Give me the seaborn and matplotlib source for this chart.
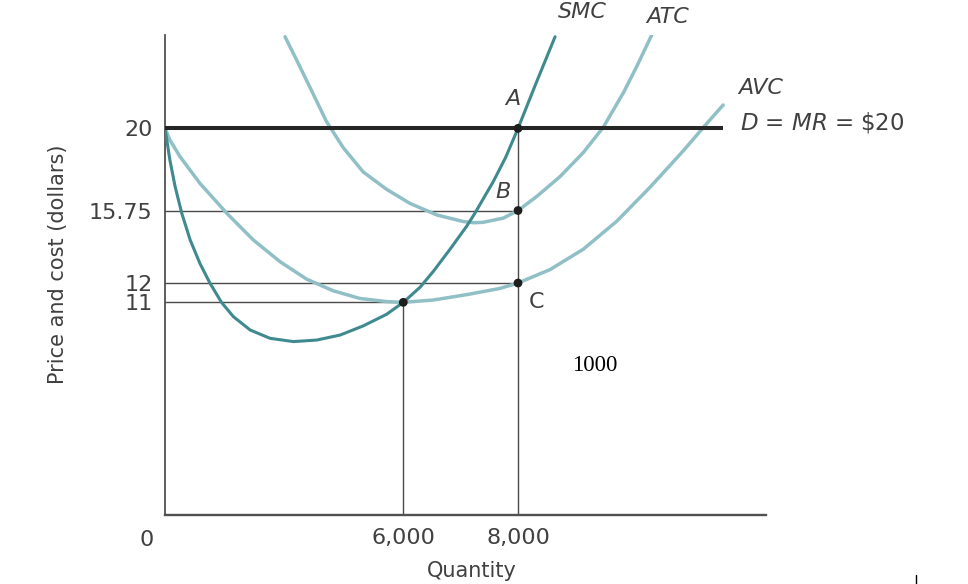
import matplotlib
matplotlib.use("Agg")
import matplotlib.pyplot as plt
import numpy as np
import pandas as pd
import seaborn as sns
from matplotlib.lines import Line2D

# DATA (diagram units on x: the textbook axis is not drawn to scale)
smc_x = [0, 0.11, 0.23, 0.38, 0.57, 0.79, 1.02, 1.28, 1.55, 1.93, 2.38, 2.91, 3.44,
         3.97, 4.49, 5.02, 5.40, 5.78, 6.08, 6.46, 6.84, 7.02, 7.44, 7.72, 8.0, 8.42, 8.84]
smc_y = [20, 18.37, 16.98, 15.61, 14.23, 13.02, 11.99, 11.0, 10.26, 9.57, 9.14, 8.97, 9.05,
         9.31, 9.78, 10.38, 11.0, 11.78, 12.6, 13.75, 14.95, 15.6, 17.25, 18.5, 20.0, 22.4, 24.74]
atc_x = [2.72, 2.98, 3.29, 3.66, 4.04, 4.49, 5.02, 5.55, 6.16, 6.76, 7.0, 7.21, 7.67, 8.0,
         8.42, 8.95, 9.48, 9.93, 10.39, 10.69, 11.03]
atc_y = [24.74, 23.55, 22.1, 20.35, 19.0, 17.75, 16.85, 16.12, 15.52, 15.18, 15.12, 15.14,
         15.36, 15.75, 16.47, 17.5, 18.75, 20.05, 21.85, 23.2, 24.83]
avc_x = [0, 0.11, 0.34, 0.79, 1.40, 2.00, 2.61, 3.21, 3.81, 4.42, 5.02, 5.40, 6.08, 6.84,
         7.59, 8.0, 8.73, 9.48, 10.24, 10.99, 11.75, 12.28, 12.65]
avc_y = [20, 19.4, 18.54, 17.16, 15.61, 14.23, 13.1, 12.2, 11.6, 11.2, 11.04, 11.0,
         11.12, 11.4, 11.72, 12.0, 12.7, 13.75, 15.2, 16.95, 18.85, 20.26, 21.21]

price = 20
demand_x = [0, 12.65]
q_pos = [5.40, 8.0]              # where 6,000 and 8,000 sit on the diagram
q_labels = ["6,000", "8,000"]
y_ticks = [11, 12, 15.75, 20]
y_labels = ["11", "12", "15.75", "20"]

# marked points
pt_x = [8.0, 8.0, 8.0, 5.40]
pt_y = [20, 15.75, 12, 11]

# guide lines
h_levels = [15.75, 12, 11]
h_ends = [8.0, 8.0, 5.40]
v_pos = [5.40, 8.0]
v_tops = [11, 20]

SMC_COL = "#3f8a8f"
AC_COL = "#90c0c5"
INK = "#404040"

sns.set_theme(style="white")
plt.rcParams["font.family"] = ["DejaVu Sans"]
plt.rcParams["mathtext.fontset"] = "dejavusans"

fig = plt.figure(figsize=(9.68, 5.84), dpi=100)
ax = fig.add_axes([165 / 968, 69 / 584, 601 / 968, 480 / 584])

# thin guide lines
for lvl, end in zip(h_levels, h_ends):
    ax.plot([0, end], [lvl, lvl], color="#4a4a4a", lw=1.0, zorder=1)
for xv, top in zip(v_pos, v_tops):
    ax.plot([xv, xv], [0, top], color="#4a4a4a", lw=1.0, zorder=1)

# cost curves
sns.lineplot(x=atc_x, y=atc_y, ax=ax, color=AC_COL, lw=2.5, sort=False, estimator=None, zorder=2)
sns.lineplot(x=avc_x, y=avc_y, ax=ax, color=AC_COL, lw=2.5, sort=False, estimator=None, zorder=2)
sns.lineplot(x=smc_x, y=smc_y, ax=ax, color=SMC_COL, lw=2.2, sort=False, estimator=None, zorder=3)
for ln in ax.lines:
    ln.set_solid_joinstyle("round")

# demand = MR
ax.plot(demand_x, [price, price], color="#262626", lw=2.9, zorder=4, solid_capstyle="butt")

# points
sns.scatterplot(x=pt_x, y=pt_y, ax=ax, color="#1e1e1e", s=40, zorder=5, edgecolor="none")

# axes styling
ax.set_xlim(0, 13.62)
ax.set_ylim(0, 24.83)
sns.despine(ax=ax)
for side in ["left", "bottom"]:
    ax.spines[side].set_color("#505050")
ax.spines["left"].set_linewidth(1.3)
ax.spines["bottom"].set_linewidth(1.7)

ax.set_yticks(y_ticks)
ax.set_yticklabels(y_labels)
ax.set_xticks(q_pos)
ax.set_xticklabels(q_labels)
ax.tick_params(axis="y", length=0, pad=9, labelsize=16, labelcolor=INK)
ax.tick_params(axis="x", length=0, pad=9, labelsize=16, labelcolor=INK)
ax.text(-0.42, -1.3, "0", ha="center", va="center", fontsize=16, color=INK, clip_on=False)

ax.set_xlabel("Quantity", fontsize=15, color=INK)
ax.xaxis.set_label_coords(0.511, -0.095)
ax.set_ylabel("Price and cost (dollars)", fontsize=15, color=INK)
ax.yaxis.set_label_coords(-0.161, 0.523)

# curve and point labels
lab = dict(fontsize=16, color=INK, style="italic", ha="center", va="center", clip_on=False)
ax.text(9.45, 26.0, "SMC", **lab)
ax.text(11.4, 25.75, "ATC", **lab)
ax.text(13.5, 22.1, "AVC", **lab)
ax.text(13.03, 20.3, r"$\mathit{D}$ = $\mathit{MR}$ = \$20", fontsize=16.5, color=INK,
        ha="left", va="center", clip_on=False)
ax.text(7.89, 21.5, "A", **lab)
ax.text(7.66, 16.7, "B", **lab)
ax.text(8.43, 11.0, "C", fontsize=16, color=INK, ha="center", va="center")

ax.text(9.74, 7.75, "1000", fontsize=16.5, family="Liberation Serif", color="black",
        ha="center", va="center",
        bbox=dict(facecolor="white", edgecolor="none", pad=8))

fig.add_artist(Line2D([916 / 968, 916 / 968], [0, 9 / 584], color="black", lw=1))

fig.savefig("out.png", dpi=100, facecolor="white")
